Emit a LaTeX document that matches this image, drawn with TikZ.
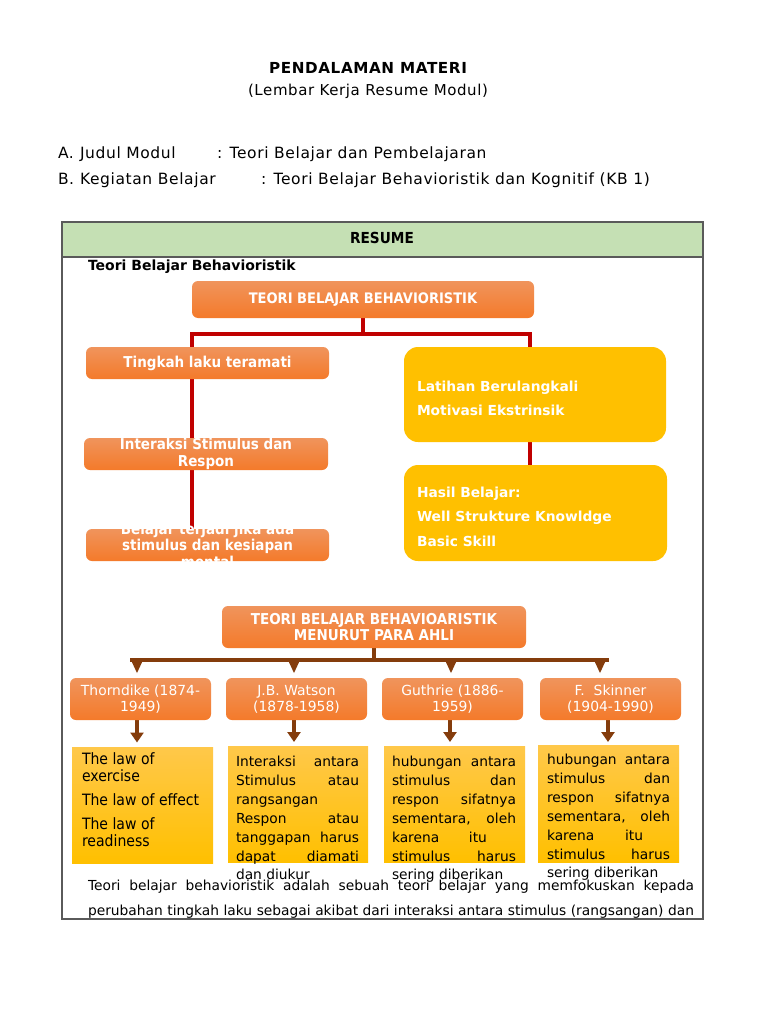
\documentclass[tikz,border=0pt]{standalone}
\usepackage{fontspec}
\setmainfont{DejaVu Sans}
\newfontfamily\hdrfont[LetterSpace=4]{DejaVu Sans}
\newfontfamily\cndfont[FakeStretch=0.9]{DejaVu Sans}
\usetikzlibrary{arrows.meta,backgrounds}
\definecolor{redc}{HTML}{C00000}
\definecolor{brn}{HTML}{843C0C}
\definecolor{orT}{HTML}{F0945C}
\definecolor{orB}{HTML}{F47A2A}
\definecolor{yel}{HTML}{FFC000}
\definecolor{ylT}{HTML}{FFC84A}
\definecolor{grn}{HTML}{C5E0B4}
\definecolor{tblc}{HTML}{5A5A5A}
\newcommand\jline[2]{\makebox[#1][s]{#2}}
\begin{document}
\begin{tikzpicture}[x=1pt,y=-1pt,
  every node/.style={inner sep=0pt, outer sep=0pt},
  obox/.style={rounded corners=6pt, top color=orT, bottom color=orB, draw=none},
  ybox/.style={rounded corners=14pt, fill=yel, draw=none},
  lbox/.style={top color=ylT, bottom color=yel, draw=none, anchor=north west},
  wl/.style={text=white, font=\cndfont\fontsize{15}{16.5}\selectfont\bfseries, align=center},
  wr/.style={text=white, font=\fontsize{13.9}{16}\selectfont, align=center},
  wy/.style={text=white, font=\fontsize{13.8}{16}\selectfont\bfseries, anchor=base west},
  bt/.style={text=black, font=\fontsize{13.8}{17}\selectfont, anchor=base west},
  ct/.style={text=black, font=\cndfont\fontsize{15.6}{17}\selectfont, anchor=base west},
  hd/.style={text=black, font=\hdrfont\fontsize{15.5}{18}\selectfont},
  redl/.style={draw=redc, line width=3.5pt},
  brl/.style={draw=brn, line width=4pt},
]
\useasboundingbox (0,0) rectangle (768,1024);

% header texts
\node[hd, font=\hdrfont\fontsize{15.2}{18}\selectfont\bfseries, anchor=base] (title) at (368,74) {PENDALAMAN MATERI};
\node[hd, font=\hdrfont\fontsize{15}{18}\selectfont, anchor=base] (sub) at (368,96) {(Lembar Kerja Resume Modul)};
\node[hd, anchor=base west] (aA) at (58,158.5) {A.};
\node[hd, anchor=base west] (aJ) at (80,158.5) {Judul Modul};
\node[hd, anchor=base west] (aT) at (217,158.5) {: Teori Belajar dan Pembelajaran};
\node[hd, anchor=base west] (bB) at (58,184.5) {B.};
\node[hd, anchor=base west] (bK) at (80,184.5) {Kegiatan Belajar};
\node[hd, anchor=base west] (bT) at (261,184.5) {: Teori Belajar Behavioristik dan Kognitif (KB 1)};

% table
\node[draw=tblc, line width=1.1pt, minimum width=641, minimum height=697, anchor=north west] (table) at (62,222) {};
\node[draw=tblc, line width=1.1pt, fill=grn, minimum width=641, minimum height=35, anchor=north west] (hdrbox) at (62,222) {};
\node[font=\cndfont\fontsize{15.2}{16}\selectfont\bfseries, anchor=base] (resume) at (382,243.5) {RESUME};
\node[font=\fontsize{14}{16}\selectfont\bfseries, anchor=base west] (sect) at (88,270) {Teori Belajar Behavioristik};

% upper chart
\node[obox, minimum width=342, minimum height=37] (t1) at (363,299.5) {};
\node[wl, font=\cndfont\fontsize{14.5}{16.5}\selectfont\bfseries] (t1l) at (t1.center) {TEORI BELAJAR BEHAVIORISTIK};
\node[obox, minimum width=243, minimum height=32] (b1) at (207.5,363) {};
\node[wl] (b1l) at (b1.center) {Tingkah laku teramati};
\node[obox, minimum width=244, minimum height=32] (b2) at (206,454) {};
\node[wl] (b2l) at (b2.center) {Interaksi Stimulus dan\\Respon};
\node[obox, minimum width=243, minimum height=32] (b3) at (207.5,545) {};
\node[wl] (b3l) at (b3.center) {Belajar terjadi jika ada\\stimulus dan kesiapan\\mental};

\node[ybox, minimum width=262, minimum height=95] (y1) at (535,394.5) {};
\node[wy] (y1a) at (417,391) {Latihan Berulangkali};
\node[wy] (y1b) at (417,415) {Motivasi Ekstrinsik};
\node[ybox, minimum width=263, minimum height=96] (y2) at (535.5,513) {};
\node[wy] (y2a) at (417,497) {Hasil Belajar:};
\node[wy] (y2b) at (417,521) {Well Strukture Knowldge};
\node[wy] (y2c) at (417,546) {Basic Skill};

\coordinate (jL) at (192,334);
\coordinate (jR) at (530,334);

% lower chart
\node[obox, minimum width=304, minimum height=42] (t2) at (374,627) {};
\node[wl] (t2l) at (t2.center) {TEORI BELAJAR BEHAVIOARISTIK\\MENURUT PARA AHLI};
\node[obox, minimum width=141, minimum height=42] (p1) at (140.5,699) {};
\node[wr] (p1l) at (p1.center) {Thorndike (1874-\\1949)};
\node[obox, minimum width=141, minimum height=42] (p2) at (296.5,699) {};
\node[wr] (p2l) at (p2.center) {J.B. Watson\\(1878-1958)};
\node[obox, minimum width=141, minimum height=42] (p3) at (452.5,699) {};
\node[wr] (p3l) at (p3.center) {Guthrie (1886-\\1959)};
\node[obox, minimum width=141, minimum height=42] (p4) at (610.5,699) {};
\node[wr] (p4l) at (p4.center) {F.\ \ Skinner\\(1904-1990)};

\coordinate (bL) at (130,660);
\coordinate (bR) at (609,660);

\node[lbox, minimum width=141, minimum height=116] (r1) at (72,747) {};
\node[lbox, minimum width=140, minimum height=116] (r2) at (228,746) {};
\node[lbox, minimum width=141, minimum height=116] (r3) at (384,746) {};
\node[lbox, minimum width=141, minimum height=117] (r4) at (538,745) {};

% r1 text
\node[ct] (r1a) at (82,764.5) {The law of};
\node[ct] (r1b) at (82,781.5) {exercise};
\node[ct] (r1c) at (82,805.5) {The law of effect};
\node[ct] (r1d) at (82,829.5) {The law of};
\node[ct] (r1e) at (82,846.5) {readiness};
% r2 text
\node[bt] (r2a) at (236,766) {\jline{123pt}{Interaksi antara}};
\node[bt] (r2b) at (236,785) {\jline{123pt}{Stimulus atau}};
\node[bt] (r2c) at (236,804) {rangsangan};
\node[bt] (r2d) at (236,823) {\jline{123pt}{Respon atau}};
\node[bt] (r2e) at (236,842) {\jline{123pt}{tanggapan harus}};
\node[bt] (r2f) at (236,861) {\jline{123pt}{dapat diamati}};
\node[bt] (r2g) at (236,879) {dan diukur};
% r3 text
\node[bt] (r3a) at (392,766) {\jline{124pt}{hubungan antara}};
\node[bt] (r3b) at (392,785) {\jline{124pt}{stimulus dan}};
\node[bt] (r3c) at (392,804) {\jline{124pt}{respon sifatnya}};
\node[bt] (r3d) at (392,823) {\jline{124pt}{sementara, oleh}};
\node[bt] (r3e) at (392,842) {\makebox[77pt][l]{karena}itu};
\node[bt] (r3f) at (392,861) {\jline{124pt}{stimulus harus}};
\node[bt] (r3g) at (392,879) {sering diberikan};
% r4 text
\node[bt] (r4a) at (547,764) {\jline{123pt}{hubungan antara}};
\node[bt] (r4b) at (547,783) {\jline{123pt}{stimulus dan}};
\node[bt] (r4c) at (547,802) {\jline{123pt}{respon sifatnya}};
\node[bt] (r4d) at (547,821) {\jline{123pt}{sementara, oleh}};
\node[bt] (r4e) at (547,840) {\makebox[78pt][l]{karena}itu};
\node[bt] (r4f) at (547,859) {\jline{123pt}{stimulus harus}};
\node[bt] (r4g) at (547,877) {sering diberikan};

% bottom paragraph
\node[bt] (par1) at (88,890) {\jline{606pt}{Teori belajar behavioristik adalah sebuah teori belajar yang memfokuskan kepada}};
\node[bt] (par2) at (88,915) {\jline{606pt}{perubahan tingkah laku sebagai akibat dari interaksi antara stimulus (rangsangan) dan}};

% connectors (behind boxes)
\begin{scope}[on background layer]
  \fill[white] (0,0) rectangle (768,1024);
  \draw[redl] (t1.south) -- (t1.south |- jL);
  \draw[redl] (jL |- b3.north) -- (jL) -- (jR) -- (jR |- y1.north);
  \draw[redl] (y1.south -| jR) -- (y2.north -| jR);
  \draw[brl] (t2.south) -- (t2.south |- bL);
  \draw[brl] (bL) -- (bR);
  \foreach \x in {137,294,451,600}{
    \fill[brn] (\x-6.5,659) -- (\x+6.5,659) -- (\x,673) -- cycle;
  }
  \draw[brl,-{Triangle[width=13pt,length=10pt]},shorten >=4.5pt] ([xshift=-3.5pt]p1.south) -- ([xshift=-3.5pt]p1.south |- r1.north);
  \draw[brl,-{Triangle[width=13pt,length=10pt]},shorten >=4pt] ([xshift=-2.5pt]p2.south) -- ([xshift=-2.5pt]p2.south |- r2.north);
  \draw[brl,-{Triangle[width=13pt,length=10pt]},shorten >=4pt] ([xshift=-2.5pt]p3.south) -- ([xshift=-2.5pt]p3.south |- r3.north);
  \draw[brl,-{Triangle[width=13pt,length=10pt]},shorten >=3pt] ([xshift=-2.5pt]p4.south) -- ([xshift=-2.5pt]p4.south |- r4.north);
\end{scope}
\end{tikzpicture}
\end{document}
